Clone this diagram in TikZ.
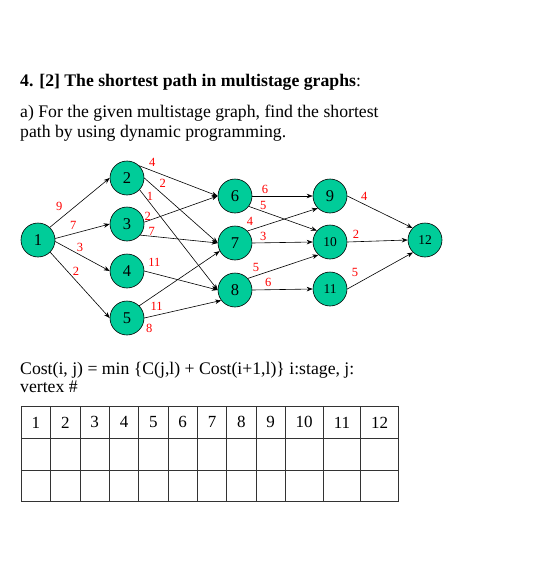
\documentclass[tikz,border=0pt]{standalone}
\usepackage{fontspec}
\setmainfont{Liberation Serif}
\usetikzlibrary{arrows.meta}
\definecolor{nodegreen}{RGB}{0,204,153}
\tikzset{
  vtx/.style={circle,draw=black,line width=0.6pt,fill=nodegreen,minimum size=34pt,inner sep=0pt,font=\fontsize{16.5}{16.5}\selectfont},
  vtxs/.style={vtx,font=\fontsize{13.5}{13.5}\selectfont},
  edge/.style={draw=black,line width=0.6pt,-{Stealth[length=6pt,width=4.5pt]}},
  wt/.style={text=red,font=\fontsize{12.5}{12.5}\selectfont,inner sep=0pt},
  txt/.style={anchor=base west,inner sep=0pt,font=\fontsize{17.7}{17.7}\selectfont},
  cell/.style={inner sep=0pt,font=\fontsize{17}{17}\selectfont}
}
\begin{document}
\begin{tikzpicture}[x=1pt,y=-1pt]
\useasboundingbox (0,0) rectangle (556,586);
% texts
\node[txt] (title) at (20,86) {\textbf{4. [2] The shortest path in multistage graphs}:};
\node[txt] (l1) at (20,117) {a) For the given multistage graph, find the shortest};
\node[txt] (l2) at (20,137) {path by using dynamic programming.};
\node[txt] (c1) at (20,374) {Cost(i, j) = min \{C(j,l) + Cost(i+1,l)\} i:stage, j:};
\node[txt] (c2) at (20,392) {vertex \#};
% vertices
\node[vtx] (n1) at (38,240) {1};
\node[vtx] (n2) at (127,178) {2};
\node[vtx] (n3) at (127,224) {3};
\node[vtx] (n4) at (127,271) {4};
\node[vtx] (n5) at (127,318) {5};
\node[vtx] (n6) at (235,196) {6};
\node[vtx] (n7) at (235,243) {7};
\node[vtx] (n8) at (235,290) {8};
\node[vtx] (n9) at (330,196) {9};
\node[vtxs] (n10) at (330,242) {10};
\node[vtxs] (n11) at (330,289) {11};
\node[vtxs] (n12) at (425,240) {12};
% edges
\draw[edge] (n1.47) -- (n2.west);
\draw[edge] (n1.5) -- (n3.west);
\draw[edge] (n1.-5) -- (n4.west);
\draw[edge] (n1.-45) -- (n5.west);
\draw[edge] (n2.45) -- (n6.west);
\draw[edge] (n2.east) -- (n7.west);
\draw[edge] (n2.-43) -- (n8.west);
\draw[edge] (n3.6) -- (n6.west);
\draw[edge] (n3.-40) -- (n7.west);
\draw[edge] (n4.east) -- (n8.west);
\draw[edge] (n5.45) -- (n7.208);
\draw[edge] (n5.east) -- (n8.217);
\draw[edge] (n6.east) -- (n9.west);
\draw[edge] (n6.-37) -- (n10.139);
\draw[edge] (n7.44) -- (n9.225);
\draw[edge] (n7.east) -- (n10.west);
\draw[edge] (n8.42) -- (n10.228);
\draw[edge] (n8.east) -- (n11.west);
\draw[edge] (n9.east) -- (n12.136);
\draw[edge] (n10.east) -- (n12.west);
\draw[edge] (n11.east) -- (n12.226);
% weights
\node[wt] (w12) at (59.3,206.7) {9};
\node[wt] (w13) at (73.3,225) {7};
\node[wt] (w14) at (80,247.3) {3};
\node[wt] (w15) at (76,271.7) {2};
\node[wt] (w26) at (152.3,162.3) {4};
\node[wt] (w27) at (162.7,183.3) {2};
\node[wt] (w28) at (150,196.7) {1};
\node[wt] (w36) at (147.7,216) {2};
\node[wt] (w37) at (151.7,231) {7};
\node[wt] (w48) at (154.3,262.3) {11};
\node[wt] (w57) at (156.7,306) {11};
\node[wt] (w58) at (149.3,328.3) {8};
\node[wt] (w69) at (265,189) {6};
\node[wt] (w610) at (263.3,205) {5};
\node[wt] (w79) at (250,221.7) {4};
\node[wt] (w710) at (263.3,236.7) {3};
\node[wt] (w810) at (256,267.7) {5};
\node[wt] (w811) at (268.3,282.3) {6};
\node[wt] (w912) at (364.3,196.7) {4};
\node[wt] (w1012) at (356,234.3) {2};
\node[wt] (w1112) at (355,272.7) {5};
% table
\draw[line width=0.7pt,draw=black!80] (21,406.5) rectangle (398.3,501.7);
\foreach \y in {438.3,470} \draw[line width=0.7pt,draw=black!80] (21,\y) -- (398.3,\y);
\foreach \x in {50.7,80,109.3,138.7,168,197.3,226.7,256,285,323.3,360.7}
  \draw[line width=0.7pt,draw=black!80] (\x,406.5) -- (\x,501.7);
\node[cell] (h1) at (35.8,422.4) {1};
\node[cell] (h2) at (65.3,422.4) {2};
\node[cell] (h3) at (94.6,422.4) {3};
\node[cell] (h4) at (124,422.4) {4};
\node[cell] (h5) at (153.3,422.4) {5};
\node[cell] (h6) at (182.6,422.4) {6};
\node[cell] (h7) at (212,422.4) {7};
\node[cell] (h8) at (241.3,422.4) {8};
\node[cell] (h9) at (270.5,422.4) {9};
\node[cell] (h10) at (304.1,422.4) {10};
\node[cell] (h11) at (342,422.4) {11};
\node[cell] (h12) at (379.5,422.4) {12};
\end{tikzpicture}
\end{document}
